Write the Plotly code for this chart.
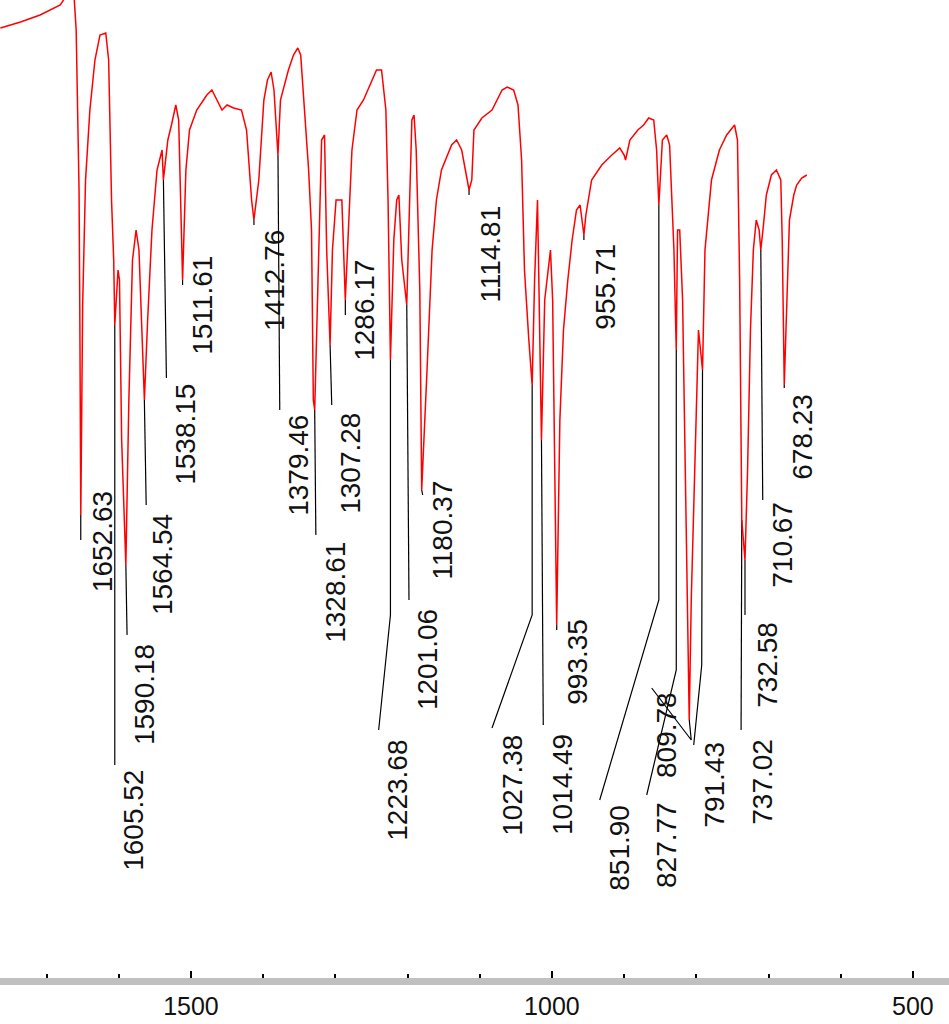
import plotly.graph_objects as go

# spectrum trace: wavenumber (cm-1) and depth (larger = deeper band)
wavenumber = [1764, 1736, 1709, 1681, 1672, 1662, 1659, 1655, 1654, 1652.6, 1650, 1646, 1640, 1633, 1626,
              1618, 1614, 1610, 1607, 1605.5, 1601, 1599, 1596, 1590.2, 1586, 1581, 1576, 1572, 1568, 1564.5,
              1560, 1554, 1547, 1540, 1538.2, 1532, 1527, 1521, 1517, 1511.6, 1507, 1502, 1492, 1478, 1471,
              1464, 1457, 1450, 1441, 1430, 1423, 1416, 1412.8, 1406, 1399, 1394, 1389, 1385, 1379.5, 1376,
              1371, 1365, 1358, 1352, 1348, 1344, 1337, 1333, 1330.5, 1328.6, 1324, 1319, 1315, 1312, 1307.3,
              1304, 1299, 1295, 1291, 1286.2, 1283, 1277, 1270, 1261, 1252, 1243, 1236, 1230, 1227, 1223.7,
              1219, 1215, 1212, 1208, 1201.1, 1197, 1194, 1191, 1188, 1183, 1180.4, 1173, 1166, 1160, 1153,
              1139, 1132, 1125, 1114.8, 1111, 1108, 1097, 1083, 1069, 1062, 1053, 1047, 1042, 1038, 1032,
              1027.4, 1024, 1020, 1017, 1014.5, 1010, 1004, 1002, 999, 996, 993.4, 989, 984, 978, 972,
              966, 961, 955.7, 953, 945, 931, 917, 906, 900, 898, 892, 881, 873, 866, 859,
              855, 851.9, 849, 847, 841, 837, 831, 827.8, 826, 823, 819, 815, 809.8, 807, 802,
              797, 791.4, 788, 779, 768, 758, 747, 743, 740, 737.0, 735, 732.6, 729, 725, 721,
              717, 713, 710.7, 707, 703, 696, 689, 683, 681, 678.2, 675, 671, 665, 661, 654, 647]
depth = [28, 22, 15, 5, -5, -5, 30, 190, 305, 515, 305, 180, 110, 60, 35,
         33, 60, 200, 260, 325, 270, 280, 440, 565, 400, 260, 230, 250, 330, 400,
         320, 230, 170, 150, 180, 140, 125, 105, 120, 280, 170, 130, 110, 95, 90,
         100, 110, 105, 108, 110, 130, 200, 220, 180, 100, 80, 72, 90, 155, 100,
         85, 70, 55, 48, 55, 100, 170, 230, 400, 410, 280, 140, 135, 250, 345,
         250, 200, 200, 200, 300, 250, 150, 110, 100, 85, 70, 70, 110, 200, 360,
         240, 200, 195, 260, 305, 200, 120, 115, 150, 290, 490, 370, 250, 200, 170,
         145, 140, 150, 190, 180, 130, 118, 110, 90, 87, 90, 105, 160, 270, 340,
         385, 280, 200, 330, 440, 300, 260, 250, 300, 500, 625, 420, 330, 280, 240,
         210, 205, 235, 215, 180, 165, 155, 148, 155, 160, 140, 130, 125, 118, 120,
         150, 205, 170, 140, 135, 145, 250, 350, 230, 230, 300, 500, 720, 600, 470,
         330, 370, 250, 180, 150, 135, 125, 140, 280, 520, 540, 560, 470, 330, 250,
         220, 230, 250, 225, 195, 175, 170, 180, 240, 385, 300, 220, 195, 185, 178, 175]

# peak labels
peak_labels = ["1652.63", "1605.52", "1590.18", "1564.54", "1538.15", "1511.61", "1412.76", "1379.46",
               "1328.61", "1307.28", "1286.17", "1223.68", "1201.06", "1180.37", "1114.81", "1027.38",
               "1014.49", "993.35", "955.71", "851.90", "827.77", "809.78", "791.43", "737.02",
               "732.58", "710.67", "678.23"]
peak_depth = [515, 325, 565, 400, 180, 280, 220, 155, 410, 345, 300, 360, 305, 490, 190, 385,
              440, 625, 235, 205, 350, 720, 370, 520, 560, 250, 385]

# leader lines (extra points after the peak tip) and label placement
leaders = [[(None, 540)], [(None, 765)], [(1588.5, 635)], [(1562, 505)], [(1534, 378)], [(None, 285)],
           [(None, 225)], [(1377, 410)], [(1327, 535)], [(1305, 405)], [(None, 315)],
           [(None, 615), (1240, 730)], [(1198, 600)], [(1179, 495)], [(None, 195)],
           [(None, 615), (1083, 728)], [(1012, 725)], [(None, 630)], [(None, 240)],
           [(None, 600), (933.8, 800)], [(None, 670), (868.7, 795)], [(807, 740), (861.8, 688)],
           [(792.5, 665), (803.6, 745)], [(738, 730)], [(None, 615)], [(708, 500)], [(None, 388)]]
label_x = [1623, 1580.6, 1565, 1540, 1508.5, 1485, 1385, 1352, 1300.8, 1280, 1260.6, 1215, 1173,
           1152.6, 1086, 1055.6, 986, 965.6, 927, 907.5, 842, 842, 776, 709.4, 702.5, 681.7, 654]
label_y = [542, 820, 695, 565, 434, 305, 280, 465, 592, 463, 310, 790, 660, 530, 254, 785,
           785, 662, 287, 848, 845, 735, 785, 782, 665, 545, 437]

fig = go.Figure()

for txt, d, pts in zip(peak_labels, peak_depth, leaders):
    w = float(txt)
    xs, ys = [w], [d]
    for px, py in pts:
        xs.append(w if px is None else px)
        ys.append(py)
    fig.add_trace(go.Scatter(x=xs, y=ys, mode='lines', line=dict(color='black', width=1.2),
                             hoverinfo='skip', showlegend=False))

fig.add_trace(go.Scatter(x=wavenumber, y=depth, mode='lines', line=dict(color='red', width=1.5),
                         showlegend=False))

for txt, lx, ly in zip(peak_labels, label_x, label_y):
    fig.add_annotation(x=lx, y=ly, text=txt, textangle=-90, showarrow=False,
                       xanchor='center', yanchor='middle',
                       font=dict(family='Liberation Sans, Arial', size=28, color='#111111'))

fig.update_xaxes(range=[1764.5, 450], tickvals=[1500, 1000, 500], ticks='inside', ticklen=7,
                 tickwidth=2, tickcolor='black', showline=True, linecolor='#c0c0c0', linewidth=7,
                 minor=dict(dtick=100, ticks='inside', ticklen=4, tickcolor='black', tickwidth=2),
                 showgrid=False, zeroline=False,
                 tickfont=dict(family='Liberation Sans Narrow, Liberation Sans', size=25, color='#111111'))
fig.update_yaxes(range=[978, 0], visible=False, showgrid=False)
fig.update_layout(width=949, height=1024, margin=dict(l=0, r=0, t=0, b=46, autoexpand=False),
                  plot_bgcolor='white', paper_bgcolor='white')

# drop the default 8px body margin of the page, no modebar
fig.write_html("out.html", config={'displayModeBar': False},
               post_script="document.body.style.margin='0';")
